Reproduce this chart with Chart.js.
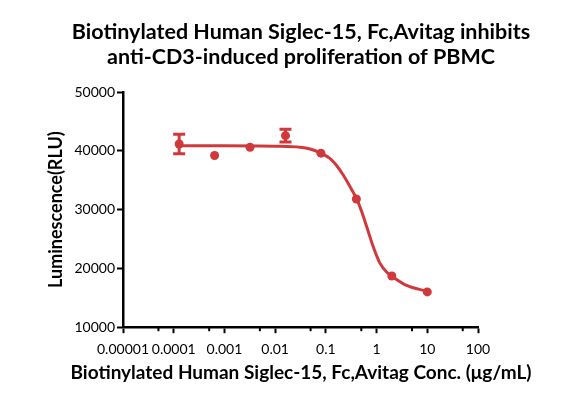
<!DOCTYPE html>
<html>
<head>
<meta charset="utf-8">
<script src="https://cdn.jsdelivr.net/npm/chart.js@4"></script>
<style>
  body { margin: 0; background: #fff; }
</style>
</head>
<body>
<canvas id="chart" width="570" height="400"></canvas>
<script>
// measured points (5-fold dilution series)
const concentrations = [0.000128, 0.00064, 0.0032, 0.016, 0.08, 0.4, 2, 10];
const luminescence = [41150, 39200, 40600, 42575, 39600, 31800, 18700, 16000];
const errorHalf = [1650, 0, 0, 1075, 0, 0, 0, 0];

// fitted curve
const curveX = [0.000128, 0.001, 0.01, 0.031, 0.049, 0.08, 0.12, 0.16, 0.22, 0.3, 0.41, 0.51, 0.64, 0.86, 1.17, 1.63, 2, 3.9, 10];
const curveY = [40850, 40850, 40780, 40600, 40300, 39600, 38720, 37580, 35880, 33890, 31740, 29630, 27080, 23670, 20850, 19250, 18680, 17100, 16100];

// axes
const xTicks = [0.00001, 0.0001, 0.001, 0.01, 0.1, 1, 10, 100];
const xTickLabels = ['0.00001', '0.0001', '0.001', '0.01', '0.1', '1', '10', '100'];
const yTicks = [10000, 20000, 30000, 40000, 50000];

const red = '#d0393b';
const fontFamily = "Lato, 'Open Sans', sans-serif";

// Fehlerbalken + kleine Striche auf der x-Achse
const extras = {
    id: 'extras',
    afterDatasetsDraw(chart) {
        const { ctx, scales: { x, y } } = chart;
        ctx.save();
        ctx.strokeStyle = red;
        ctx.lineWidth = 3;
        concentrations.forEach((c, i) => {
            if (!errorHalf[i]) return;
            const px = x.getPixelForValue(c);
            const top = y.getPixelForValue(luminescence[i] + errorHalf[i]);
            const bot = y.getPixelForValue(luminescence[i] - errorHalf[i]);
            ctx.beginPath();
            ctx.moveTo(px, top);
            ctx.lineTo(px, bot);
            ctx.moveTo(px - 6, top);
            ctx.lineTo(px + 6, top);
            ctx.moveTo(px - 6, bot);
            ctx.lineTo(px + 6, bot);
            ctx.stroke();
        });
        // minor ticks
        ctx.strokeStyle = '#000';
        ctx.lineWidth = 2;
        const yb = chart.chartArea.bottom;
        xTicks.slice(0, -1).forEach(v => {
            const px = x.getPixelForValue(v * 5);
            ctx.beginPath();
            ctx.moveTo(px, yb);
            ctx.lineTo(px, yb + 4);
            ctx.stroke();
        });
        ctx.restore();
    }
};

new Chart(document.getElementById('chart'), {
    type: 'line',
    data: {
        datasets: [{
            data: curveX.map((v, i) => ({ x: v, y: curveY[i] })),
            borderColor: red,
            borderWidth: 3,
            pointRadius: 0,
            cubicInterpolationMode: 'monotone',
            fill: false
        }, {
            data: concentrations.map((v, i) => ({ x: v, y: luminescence[i] })),
            showLine: false,
            pointRadius: 4.5,
            pointBackgroundColor: red,
            pointBorderColor: red,
            pointBorderWidth: 0
        }]
    },
    options: {
        responsive: false,
        animation: false,
        layout: { padding: { top: 0, right: 0, bottom: 0, left: 32 } },
        plugins: {
            legend: { display: false },
            tooltip: { enabled: false },
            title: {
                display: true,
                text: ['Biotinylated Human Siglec-15, Fc,Avitag inhibits', 'anti-CD3-induced proliferation of PBMC'],
                color: '#000',
                font: { family: fontFamily, size: 21.5, weight: 'bold', lineHeight: 1.163 },
                padding: { top: 19.5, bottom: 22.5 }
            },
            subtitle: {
                display: true,
                position: 'bottom',
                text: 'Biotinylated Human Siglec-15, Fc,Avitag Conc. (μg/mL)',
                color: '#000',
                font: { family: fontFamily, size: 19, weight: 'bold', lineHeight: 1.2 },
                padding: { top: 1, bottom: 16 }
            }
        },
        scales: {
            x: {
                type: 'logarithmic',
                min: 0.00001,
                max: 100,
                afterBuildTicks: s => { s.ticks = xTicks.map(v => ({ value: v })); },
                afterFit: s => { s.height = 33; },
                ticks: {
                    color: '#000',
                    font: { family: fontFamily, size: 14 },
                    padding: 8,
                    maxRotation: 0,
                    autoSkip: false,
                    callback: v => xTickLabels[xTicks.indexOf(v)]
                },
                grid: { drawOnChartArea: false, tickLength: 6, tickWidth: 2, tickColor: '#000' },
                border: { color: '#000', width: 2.5 }
            },
            y: {
                min: 10000,
                max: 50000,
                afterBuildTicks: s => { s.ticks = yTicks.map(v => ({ value: v })); },
                afterFit: s => { s.width = 91; },
                ticks: {
                    color: '#000',
                    font: { family: fontFamily, size: 14 },
                    padding: 2,
                    callback: v => String(v)
                },
                grid: { drawOnChartArea: false, tickLength: 6, tickWidth: 2, tickColor: '#000' },
                border: { color: '#000', width: 2.5 },
                title: {
                    display: true,
                    text: 'Luminescence(RLU)',
                    color: '#000',
                    font: { family: fontFamily, size: 18, weight: 'bold', lineHeight: 1.2 },
                    padding: { top: 13, bottom: 0 }
                }
            },
            // leere Achse rechts, hält den Platz frei
            yr: {
                position: 'right',
                display: true,
                afterFit: s => { s.width = 92; },
                ticks: { display: false },
                grid: { display: false },
                border: { display: false }
            }
        }
    },
    plugins: [extras]
});
</script>
</body>
</html>
